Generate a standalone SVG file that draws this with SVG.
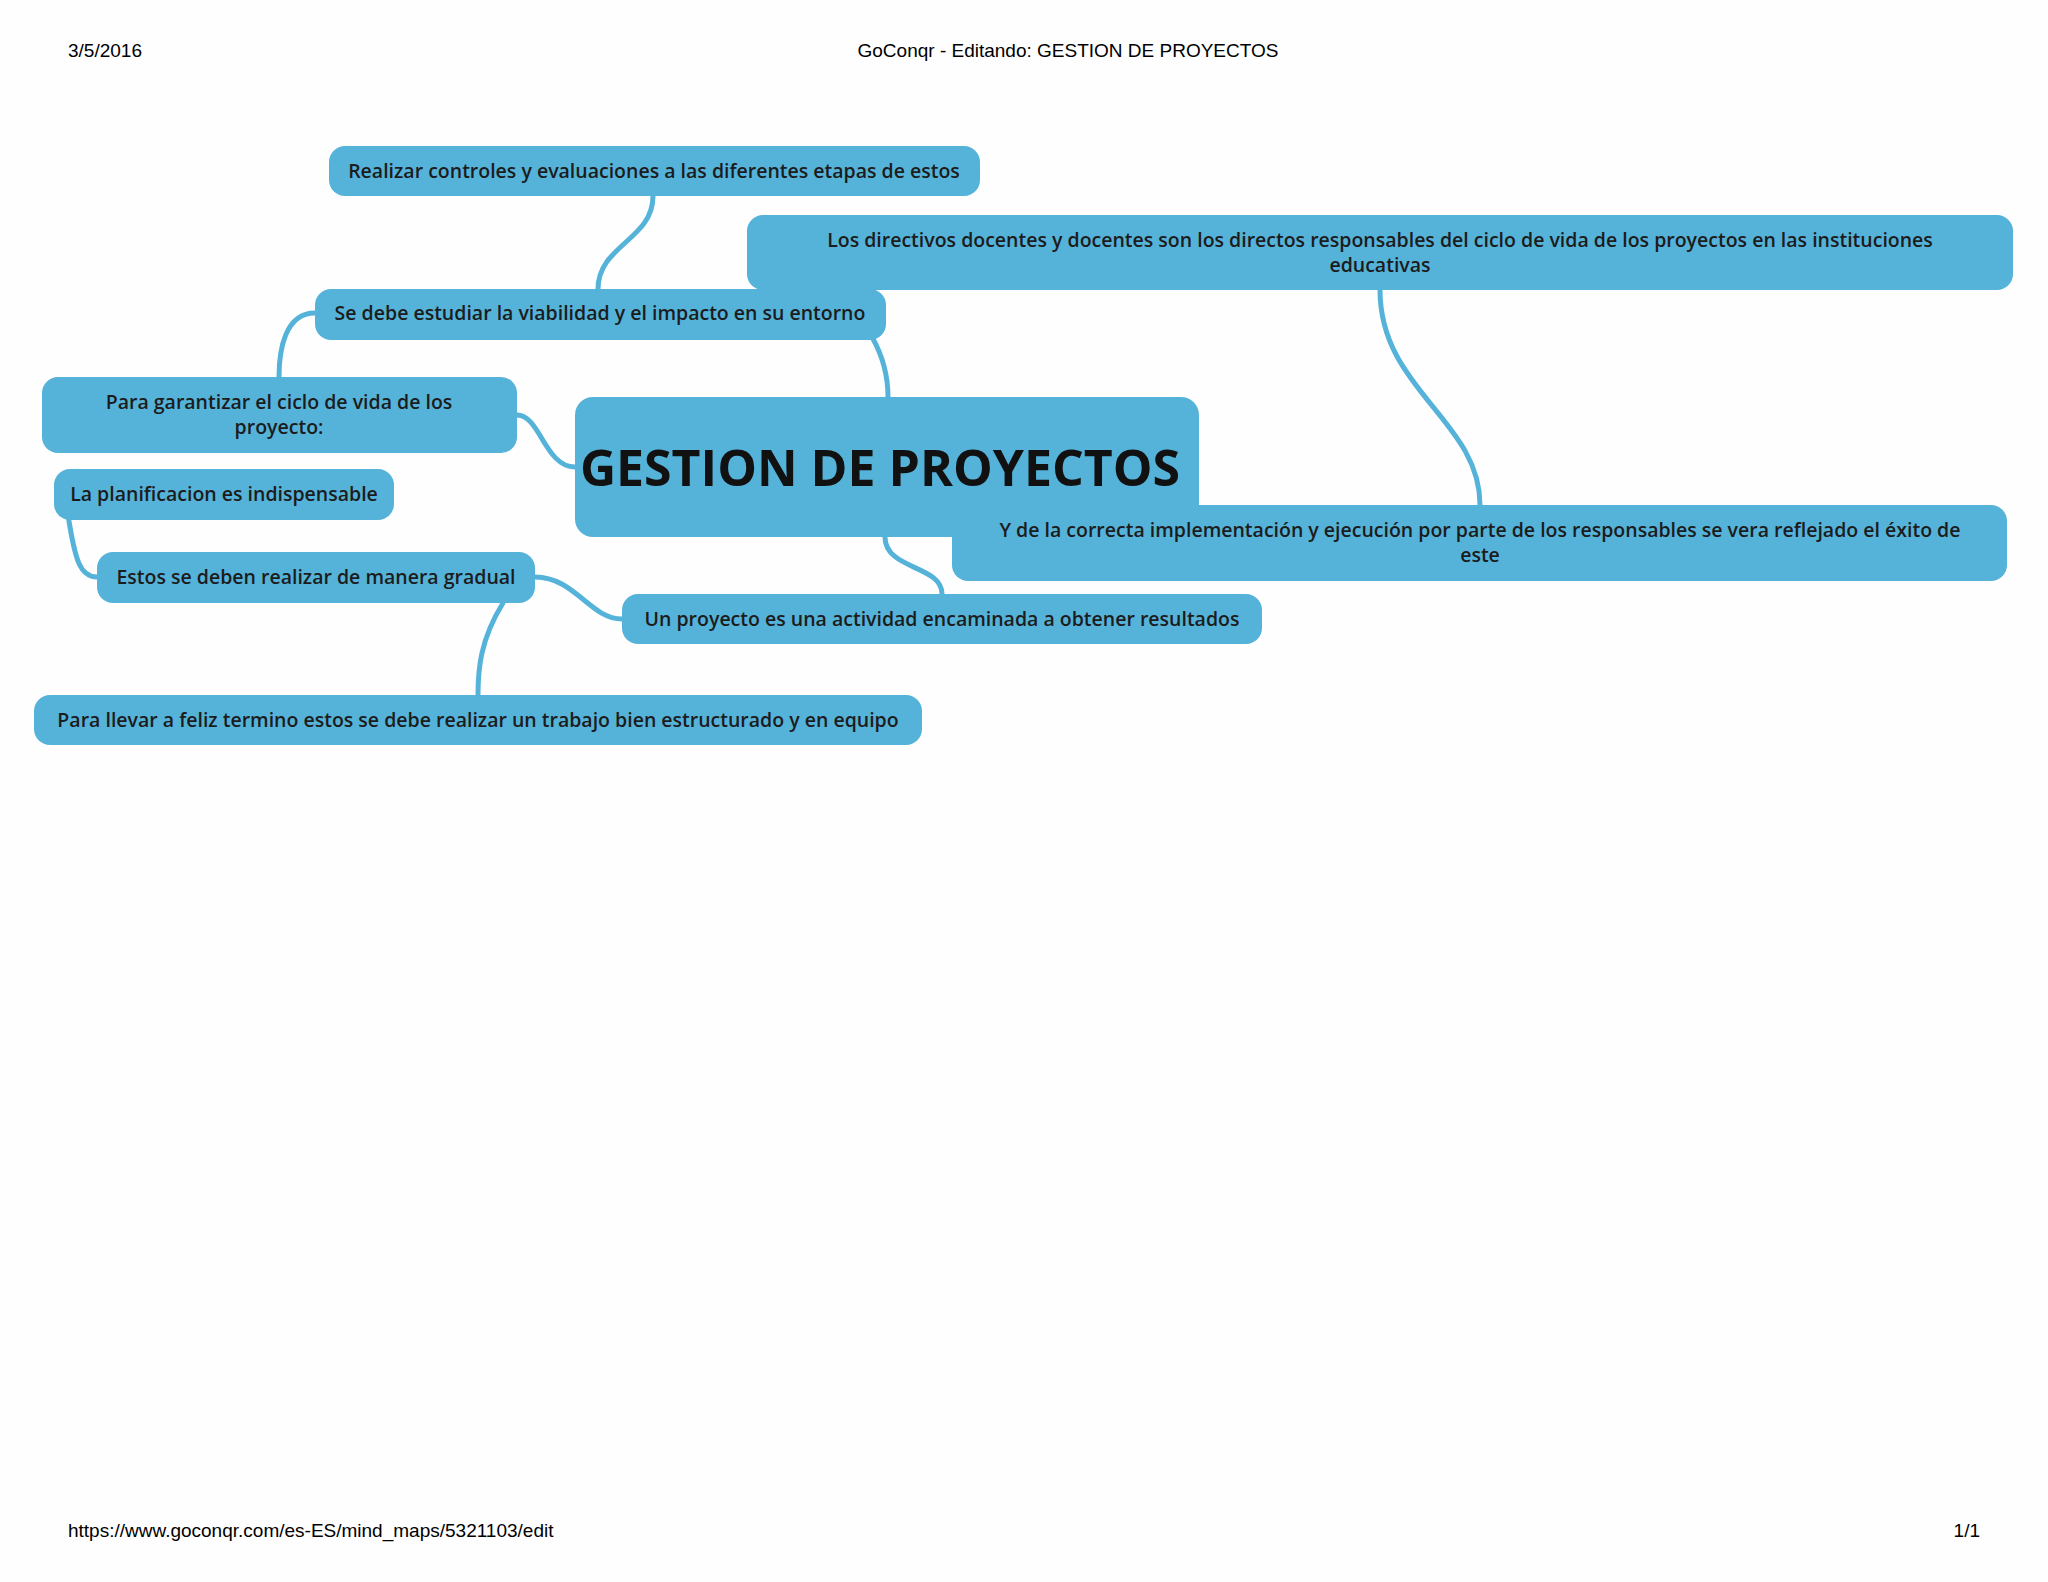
<svg xmlns="http://www.w3.org/2000/svg" width="2048" height="1582" viewBox="0 0 2048 1582">
<style>
.n{fill:#55b3da}
.t{font-family:"Open Sans","Noto Sans",sans-serif;font-size:19.5px;font-weight:600;fill:#1c1c1c;text-anchor:middle}
.h{font-family:"Liberation Sans",Arial,sans-serif;font-size:19px;fill:#000}
.c{fill:none;stroke:#55b3da;stroke-width:5;stroke-linecap:round}
</style>
<rect width="2048" height="1582" fill="#fefefe"/>
<text class="h" x="68" y="57">3/5/2016</text>
<text class="h" x="1068" y="57" text-anchor="middle">GoConqr - Editando: GESTION DE PROYECTOS</text>
<text class="h" x="68" y="1537">https://www.goconqr.com/es-ES/mind_maps/5321103/edit</text>
<text class="h" x="1980" y="1537" text-anchor="end">1/1</text>
<g id="connectors">
<path class="c" d="M653,196 C653,240 598,245 598,289"/>
<path class="c" d="M872,337 C885,360 888,380 888,397"/>
<path class="c" d="M315,313 C285,313 279,350 279,377"/>
<path class="c" d="M517,415 C540,415 545,467 575,467"/>
<path class="c" d="M1380,290 C1380,390 1480,420 1480,505"/>
<path class="c" d="M885,537 C885,570 942,565 942,594"/>
<path class="c" d="M68,515 C75,560 80,577 97,577"/>
<path class="c" d="M535,577 C575,577 590,619 622,619"/>
<path class="c" d="M503,603 C480,640 478,670 478,695"/>
</g>
<g id="realizar"><rect class="n" x="329" y="146" width="651" height="50" rx="16"/><text class="t" x="654" y="178">Realizar controles y evaluaciones a las diferentes etapas de estos</text></g>
<g id="directivos"><rect class="n" x="747" y="215" width="1266" height="75" rx="16"/><text class="t" x="1380" y="247">Los directivos docentes y docentes son los directos responsables del ciclo de vida de los proyectos en las instituciones</text><text class="t" x="1380" y="272">educativas</text></g>
<g id="sedebe"><rect class="n" x="315" y="289" width="571" height="51" rx="16"/><text class="t" x="600" y="320">Se debe estudiar la viabilidad y el impacto en su entorno</text></g>
<g id="garantizar"><rect class="n" x="42" y="377" width="475" height="76" rx="16"/><text class="t" x="279" y="409">Para garantizar el ciclo de vida de los</text><text class="t" x="279" y="434">proyecto:</text></g>
<g id="central"><rect class="n" x="575" y="397" width="624" height="140" rx="18"/><text x="880" y="486" style="font-family:'Open Sans','Noto Sans',sans-serif;font-size:50px;font-weight:700;fill:#111;text-anchor:middle">GESTION DE PROYECTOS</text></g>
<g id="exito"><rect class="n" x="952" y="505" width="1055" height="76" rx="16"/><text class="t" x="1480" y="537">Y de la correcta implementación y ejecución por parte de los responsables se vera reflejado el éxito de</text><text class="t" x="1480" y="562">este</text></g>
<g id="planificacion"><rect class="n" x="54" y="469" width="340" height="51" rx="16"/><text class="t" x="224" y="501">La planificacion es indispensable</text></g>
<g id="estos"><rect class="n" x="97" y="552" width="438" height="51" rx="16"/><text class="t" x="316" y="584">Estos se deben realizar de manera gradual</text></g>
<g id="proyecto"><rect class="n" x="622" y="594" width="640" height="50" rx="16"/><text class="t" x="942" y="626">Un proyecto es una actividad encaminada a obtener resultados</text></g>
<g id="llevar"><rect class="n" x="34" y="695" width="888" height="50" rx="16"/><text class="t" x="478" y="727">Para llevar a feliz termino estos se debe realizar un trabajo bien estructurado y en equipo</text></g>
</svg>
